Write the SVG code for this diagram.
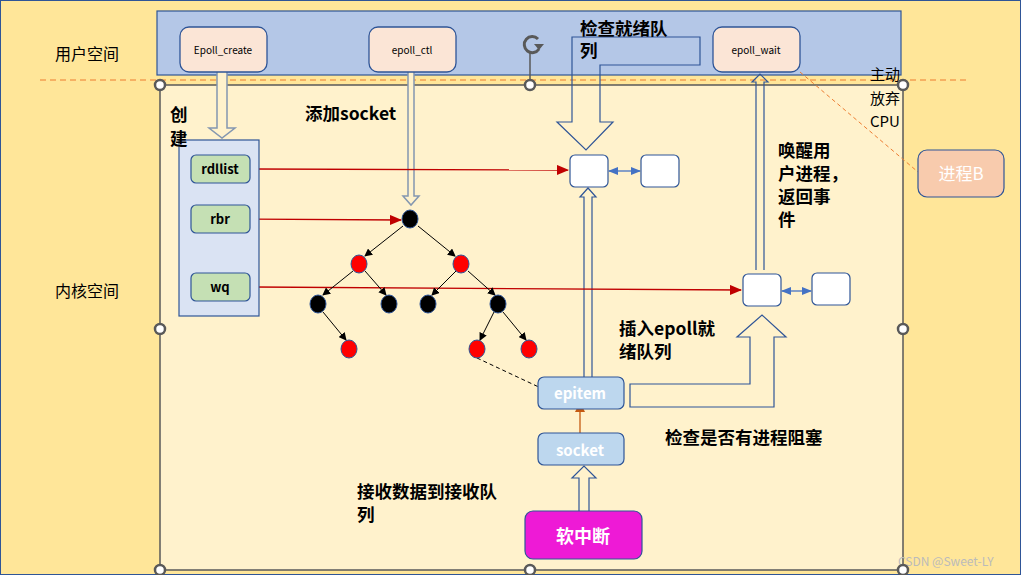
<svg xmlns="http://www.w3.org/2000/svg" width="1021" height="575" viewBox="0 0 1021 575">
<defs>
<style>
text{font-family:"Noto Sans CJK SC","Liberation Sans",sans-serif;fill:#000}
.lbl{font-size:17.5px;font-weight:bold}
.api{fill:#FBE5D6;stroke:#2F5597;stroke-width:1.3}
.fld{fill:#C5E0B4;stroke:#2F5597;stroke-width:1.2}
.q{fill:#fff;stroke:#2F5597;stroke-width:1.2}
.hol{fill:none;stroke:#2F5597;stroke-width:1.2}
.holg{fill:#FFF2CC;stroke:#8497B0;stroke-width:1.5}
.blk{fill:#000;stroke:#2F5597;stroke-width:1}
.red{fill:#f00;stroke:#2F5597;stroke-width:1}
.h{fill:#fff;stroke:#595959;stroke-width:2.5}
</style>
<marker id="ar" markerWidth="8" markerHeight="8" refX="7" refY="4" orient="auto" markerUnits="userSpaceOnUse"><path d="M0,0 L8,4 L0,8z" fill="#000"/></marker>
<marker id="rr" markerWidth="12" markerHeight="10" refX="11" refY="5" orient="auto" markerUnits="userSpaceOnUse"><path d="M0,0 L12,5 L0,10z" fill="#C00000"/></marker>
<marker id="ba" markerWidth="10" markerHeight="8" refX="9" refY="4" orient="auto-start-reverse" markerUnits="userSpaceOnUse"><path d="M0,0 L10,4 L0,8z" fill="#4472C4"/></marker>
<marker id="oa" markerWidth="10" markerHeight="10" refX="5" refY="9" orient="0" markerUnits="userSpaceOnUse"><path d="M0,10 L5,0 L10,10z" fill="#C55A11"/></marker>
</defs>
<rect x="0" y="0" width="1021" height="575" fill="#FFE699" stroke="#2F5597" stroke-width="2"/>
<rect x="160" y="85" width="743" height="485" fill="#FFF2CC" stroke="#595959" stroke-width="1.5"/>
<rect x="157" y="11" width="744" height="64" fill="#B4C7E7" stroke="#2F5597" stroke-width="1.2"/>
<line x1="40" y1="80" x2="966" y2="80" stroke="#ED7D31" stroke-dasharray="6,4" stroke-width="1.2"/>

<text x="55" y="60" style="font-size:16px">用户空间</text>
<text x="55" y="297" style="font-size:16px">内核空间</text>

<g id="connectors">
<path class="holg" d="M217,72 V128 H209 L222,138 L235,128 H227 V72"/>
<path class="holg" d="M408,72 V196 H403 L411,205 L419,196 H414 V72"/>
<path class="hol" d="M572,37 H700 V65 H600 V122 H613 L586,150 L557,122 H572 Z"/>
<path class="hol" d="M584,377 V197 H580 L588,188 L596,197 H592 V377"/>
<path class="hol" d="M756,270 V82 H752 L760,74 L768,82 H764 V270"/>
<path class="hol" d="M630,384 H750 V337 H737 L762,315 L786,337 H774 V407 H630 Z"/>
<path class="hol" d="M579,511 V478 H572 L584,466 L596,478 H589 V511"/>
<line x1="250" y1="169" x2="568" y2="170" stroke="#C00000" stroke-width="1.3" marker-end="url(#rr)"/>
<line x1="250" y1="219" x2="401" y2="220" stroke="#C00000" stroke-width="1.3" marker-end="url(#rr)"/>
<line x1="250" y1="287" x2="741" y2="290" stroke="#C00000" stroke-width="1.3" marker-end="url(#rr)"/>
<line x1="609" y1="171" x2="640" y2="171" stroke="#4472C4" stroke-width="1.3" marker-start="url(#ba)" marker-end="url(#ba)"/>
<line x1="782" y1="291" x2="811" y2="291" stroke="#4472C4" stroke-width="1.3" marker-start="url(#ba)" marker-end="url(#ba)"/>
<line x1="580" y1="433" x2="580" y2="411" stroke="#C55A11" stroke-width="1.3" marker-end="url(#oa)"/>
<line x1="477" y1="358" x2="543" y2="389" stroke="#000" stroke-dasharray="4,3"/>
<line x1="800" y1="72" x2="918" y2="172" stroke="#ED7D31" stroke-dasharray="4,3"/>
<g stroke="#000" stroke-width="1">
<line x1="403" y1="226" x2="365" y2="256" marker-end="url(#ar)"/>
<line x1="418" y1="226" x2="455" y2="256" marker-end="url(#ar)"/>
<line x1="353" y1="271" x2="323" y2="295" marker-end="url(#ar)"/>
<line x1="365" y1="271" x2="386" y2="295" marker-end="url(#ar)"/>
<line x1="456" y1="271" x2="432" y2="295" marker-end="url(#ar)"/>
<line x1="468" y1="271" x2="495" y2="295" marker-end="url(#ar)"/>
<line x1="323" y1="312" x2="346" y2="340" marker-end="url(#ar)"/>
<line x1="494" y1="312" x2="480" y2="340" marker-end="url(#ar)"/>
<line x1="503" y1="312" x2="526" y2="340" marker-end="url(#ar)"/>
</g>
</g>

<g id="n-epoll-create"><rect class="api" x="180" y="27" width="87" height="45" rx="9"/><text x="223" y="54" text-anchor="middle" style="font-size:10px">Epoll_create</text></g>
<g id="n-epoll-ctl"><rect class="api" x="369" y="27" width="87" height="45" rx="9"/><text x="412" y="54" text-anchor="middle" style="font-size:10px">epoll_ctl</text></g>
<g id="n-epoll-wait"><rect class="api" x="713" y="27" width="87" height="45" rx="9"/><text x="756" y="54" text-anchor="middle" style="font-size:10px">epoll_wait</text></g>
<g id="n-procB"><rect x="918" y="150" width="86" height="47" rx="9" fill="#F8CBAD" stroke="#2F5597" stroke-width="1.2"/><text x="961" y="180" text-anchor="middle" style="font-size:17px;fill:#fff">进程B</text></g>

<g id="n-eventpoll"><rect x="179" y="140" width="80" height="176" fill="#DAE3F3" stroke="#2F5597" stroke-width="1.2"/></g>
<g id="n-rdllist"><rect class="fld" x="191" y="155" width="59" height="28" rx="5"/><text x="220" y="174" text-anchor="middle" class="lbl" style="font-size:13px">rdllist</text></g>
<g id="n-rbr"><rect class="fld" x="191" y="205" width="59" height="28" rx="5"/><text x="220" y="224" text-anchor="middle" class="lbl" style="font-size:13px">rbr</text></g>
<g id="n-wq"><rect class="fld" x="191" y="273" width="59" height="28" rx="5"/><text x="220" y="292" text-anchor="middle" class="lbl" style="font-size:13px">wq</text></g>

<g id="n-rd1"><rect class="q" x="570" y="155" width="38" height="32" rx="5"/></g>
<g id="n-rd2"><rect class="q" x="641" y="155" width="38" height="32" rx="5"/></g>
<g id="n-wq1"><rect class="q" x="743" y="274" width="38" height="32" rx="5"/></g>
<g id="n-wq2"><rect class="q" x="812" y="273" width="38" height="32" rx="5"/></g>

<g id="n-tree">
<ellipse class="blk" cx="410" cy="219" rx="8" ry="9"/>
<ellipse class="red" cx="359" cy="264" rx="8" ry="9"/>
<ellipse class="red" cx="461" cy="264" rx="8" ry="9"/>
<ellipse class="blk" cx="318" cy="304" rx="8" ry="9"/>
<ellipse class="blk" cx="389" cy="304" rx="8" ry="9"/>
<ellipse class="blk" cx="428" cy="304" rx="8" ry="9"/>
<ellipse class="blk" cx="498" cy="304" rx="8" ry="9"/>
<ellipse class="red" cx="349" cy="349" rx="8" ry="9"/>
<ellipse class="red" cx="477" cy="349" rx="8" ry="9"/>
<ellipse class="red" cx="529" cy="349" rx="8" ry="9"/>
</g>

<g id="n-epitem"><rect x="538" y="377" width="86" height="32" rx="6" fill="#BDD7EE" stroke="#2F5597" stroke-width="1.2"/><text x="580" y="399" text-anchor="middle" class="lbl" style="font-size:15px;fill:#fff">epitem</text></g>
<g id="n-socket"><rect x="538" y="433" width="86" height="32" rx="6" fill="#BDD7EE" stroke="#2F5597" stroke-width="1.2"/><text x="580" y="456" text-anchor="middle" class="lbl" style="font-size:15px;fill:#fff">socket</text></g>
<g id="n-softirq"><rect x="525" y="511" width="117" height="48" rx="8" fill="#EE1AD6" stroke="#2F5597" stroke-width="1.2"/><text x="583" y="543" text-anchor="middle" class="lbl" style="font-size:18px;fill:#fff">软中断</text></g>

<text x="170" y="121" class="lbl">创</text>
<text x="170" y="145" class="lbl">建</text>
<text x="305" y="120" class="lbl">添加socket</text>
<text x="580" y="35" class="lbl">检查就绪队</text>
<text x="580" y="57" class="lbl">列</text>
<text x="870" y="80" style="font-size:15px">主动</text>
<text x="870" y="104" style="font-size:15px">放弃</text>
<text x="870" y="127" style="font-size:15px">CPU</text>
<text x="778" y="157" class="lbl">唤醒用</text>
<text x="778" y="180" class="lbl">户进程，</text>
<text x="778" y="203" class="lbl">返回事</text>
<text x="778" y="226" class="lbl">件</text>
<text x="619" y="335" class="lbl">插入epoll就</text>
<text x="619" y="358" class="lbl">绪队列</text>
<text x="665" y="444" class="lbl">检查是否有进程阻塞</text>
<text x="357" y="498" class="lbl">接收数据到接收队</text>
<text x="357" y="521" class="lbl">列</text>
<text x="898" y="566" style="font-size:12px;fill:#bbb">CSDN @Sweet-LY</text>

<g id="handles">
<line x1="530" y1="52" x2="530" y2="85" stroke="#595959" stroke-width="1.5"/>
<path d="M538,39 A8,8 0 1 0 539,49" fill="none" stroke="#595959" stroke-width="3"/>
<path d="M534,44 L544,44 L539,50 Z" fill="#595959"/>
<circle class="h" cx="160" cy="85" r="5"/><circle class="h" cx="530" cy="85" r="5"/><circle class="h" cx="903" cy="85" r="5"/>
<circle class="h" cx="160" cy="329" r="5"/><circle class="h" cx="903" cy="329" r="5"/>
<circle class="h" cx="160" cy="570" r="5"/><circle class="h" cx="530" cy="570" r="5"/><circle class="h" cx="903" cy="570" r="5"/>
</g>
</svg>
